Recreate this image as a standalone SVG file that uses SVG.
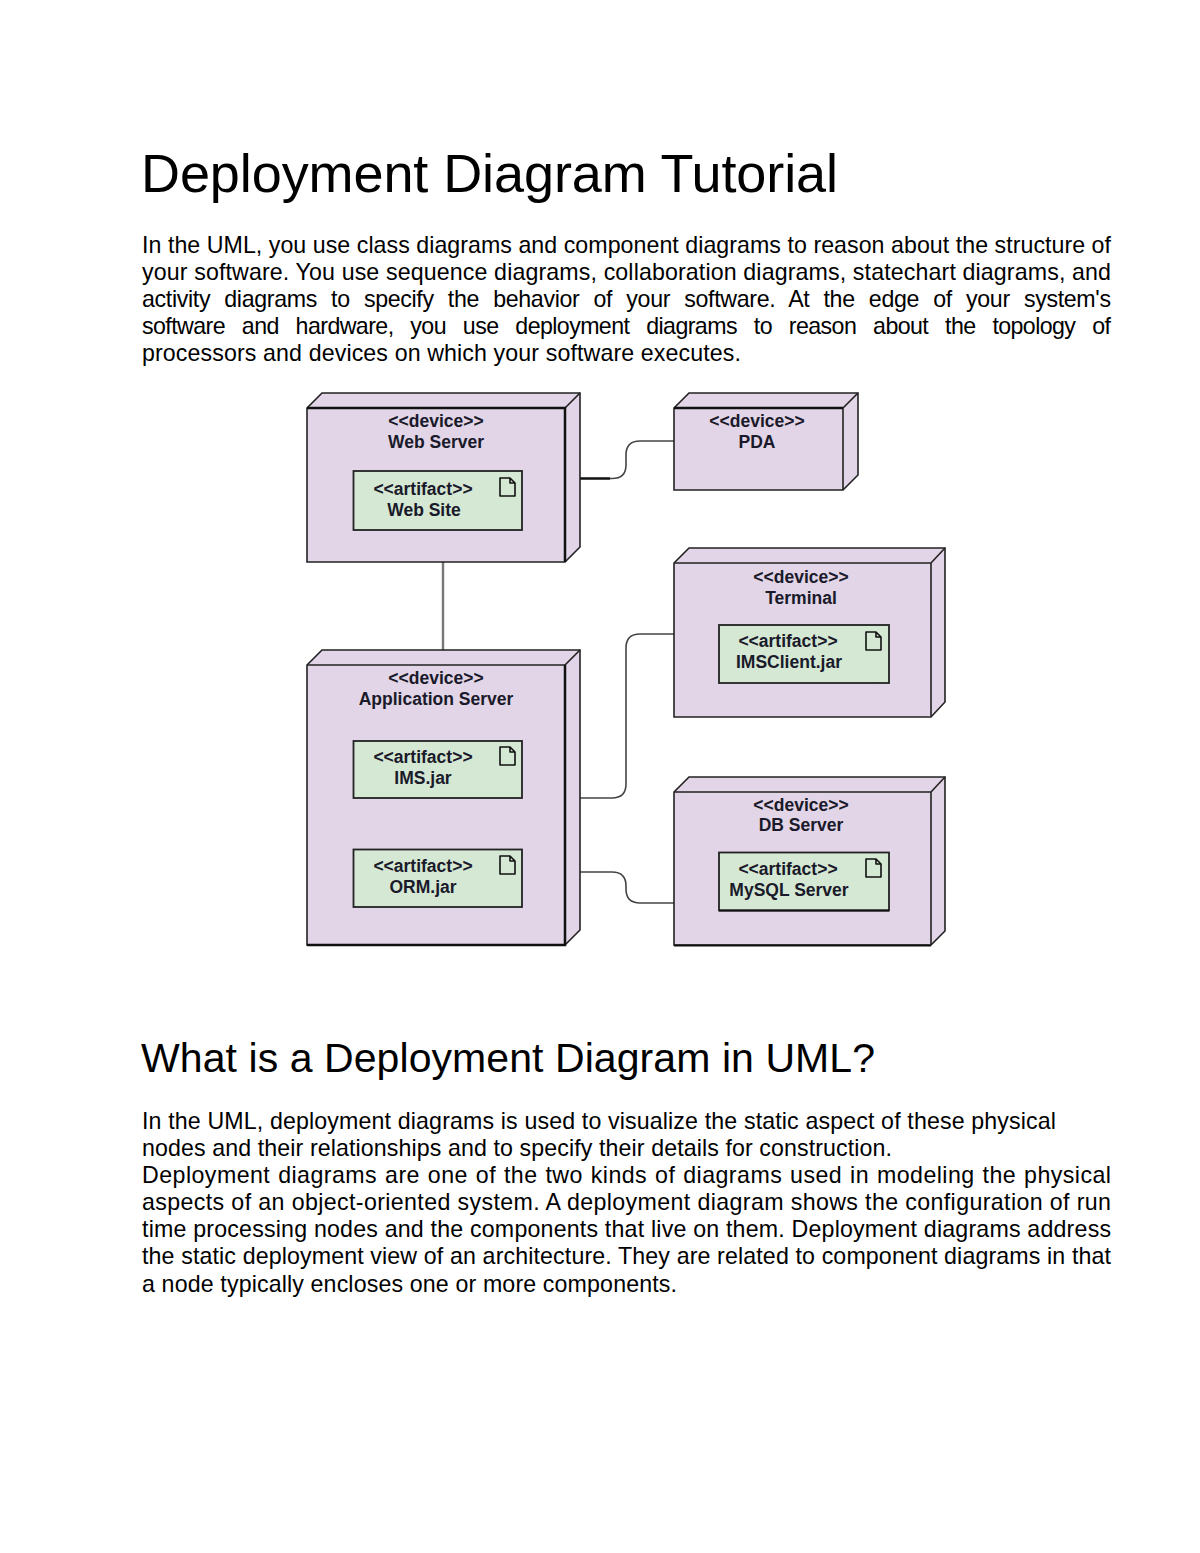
<svg xmlns="http://www.w3.org/2000/svg" width="1200" height="1553" viewBox="0 0 1200 1553">
<style>
text{font-family:"Liberation Sans",Arial,sans-serif;fill:#000}
.t{font-size:54px}.h{font-size:41px}.b{font-size:23.2px}
.n{fill:#e1d5e7;stroke:#222;stroke-width:1.6}
.a{fill:#d5e8d4;stroke:#222;stroke-width:1.8}
.i{fill:none;stroke:#111;stroke-width:1.6;stroke-linejoin:round}
.c{fill:none;stroke:#444;stroke-width:1.6}
.l{font-size:17.500px;font-weight:bold;fill:#1a1a2a;text-anchor:middle}
.front{fill:none;stroke:#111;stroke-width:2}
</style>
<defs>
<g id="doc"><path class="i" d="M0 0h10l5 5v13h-15z M10 0v5h5"/></g>
</defs>
<rect width="1200" height="1553" fill="#fff"/>
<g id="document-text">
<text class="t" x="141" y="192" textLength="697">Deployment Diagram Tutorial</text>
<text class="b" x="142" y="252.500" textLength="969">In the UML, you use class diagrams and component diagrams to reason about the structure of</text>
<text class="b" x="142" y="279.500" textLength="969">your software. You use sequence diagrams, collaboration diagrams, statechart diagrams, and</text>
<text class="b" x="142" y="306.500" textLength="969" word-spacing="8">activity diagrams to specify the behavior of your software. At the edge of your system's</text>
<text class="b" x="142" y="333.500" textLength="969" word-spacing="11">software and hardware, you use deployment diagrams to reason about the topology of</text>
<text class="b" x="142" y="360.500" textLength="599">processors and devices on which your software executes.</text>
<text class="h" x="141" y="1072" textLength="734">What is a Deployment Diagram in UML?</text>
<text class="b" x="142" y="1129" textLength="914">In the UML, deployment diagrams is used to visualize the static aspect of these physical</text>
<text class="b" x="142" y="1156" textLength="750">nodes and their relationships and to specify their details for construction.</text>
<text class="b" x="142" y="1183" textLength="969" word-spacing="1">Deployment diagrams are one of the two kinds of diagrams used in modeling the physical</text>
<text class="b" x="142" y="1210" textLength="969">aspects of an object-oriented system. A deployment diagram shows the configuration of run</text>
<text class="b" x="142" y="1237" textLength="969">time processing nodes and the components that live on them. Deployment diagrams address</text>
<text class="b" x="142" y="1264" textLength="969">the static deployment view of an architecture. They are related to component diagrams in that</text>
<text class="b" x="142" y="1292" textLength="535">a node typically encloses one or more components.</text>
</g>
<g id="connectors">
<path class="c" style="stroke:#777;stroke-width:2.400" d="M443 562V650"/>
<path class="c" d="M580 478.500H612Q626 478.500 626 465V455Q626 441 640 441H674"/>
<path class="c" style="stroke:#111;stroke-width:2.400" d="M580 478.500H610"/>
<path class="c" d="M580 798H612Q626 798 626 784V648Q626 634 640 634H674"/>
<path class="c" d="M580 872H612Q626 872 626 886V889Q626 903 640 903H674"/>
</g>
<g id="web-server">
<path class="n" d="M307 408L322 393H580V547L565 562H307Z"/>
<path class="n" d="M565 408L580 393M565 408V562"/>
<path class="front" style="stroke-width:2.500" d="M307 408H565V562"/>
<text class="l" x="436" y="427">&lt;&lt;device&gt;&gt;</text>
<text class="l" x="436" y="448">Web Server</text>
<g id="web-site"><rect class="a" x="353.500" y="471" width="168.500" height="59"/>
<use href="#doc" x="500" y="478"/>
<text class="l" x="423" y="495">&lt;&lt;artifact&gt;&gt;</text>
<text class="l" x="424" y="516">Web Site</text></g>
</g>
<g id="pda">
<path class="n" d="M674 408L689 393H858V475L843 490H674Z"/>
<path class="n" d="M843 408L858 393M843 408V490"/>
<path class="front" style="stroke-width:2.500" d="M674 408H843"/>
<text class="l" x="757" y="427">&lt;&lt;device&gt;&gt;</text>
<text class="l" x="757" y="448">PDA</text>
</g>
<g id="terminal">
<path class="n" d="M674 563L689 548H945V702L931 717H674Z"/>
<path class="n" d="M674 563H931V717M931 563L945 548"/>
<text class="l" x="801" y="583">&lt;&lt;device&gt;&gt;</text>
<text class="l" x="801" y="604">Terminal</text>
<g id="imsclient"><rect class="a" x="719" y="625" width="170" height="58"/>
<use href="#doc" x="866" y="632"/>
<text class="l" x="788" y="647">&lt;&lt;artifact&gt;&gt;</text>
<text class="l" x="789" y="668">IMSClient.jar</text></g>
</g>
<g id="application-server">
<path class="n" d="M307 665L322 650H580V930L565 945H307Z"/>
<path class="n" d="M565 665L580 650M565 665V945"/>
<path class="n" style="fill:none" d="M307 665H565"/>
<path class="front" style="stroke-width:2.500" d="M565 665V945H307"/>
<text class="l" x="436" y="684">&lt;&lt;device&gt;&gt;</text>
<text class="l" x="436" y="705">Application Server</text>
<g id="ims-jar"><rect class="a" x="353.500" y="741" width="168.500" height="57"/>
<use href="#doc" x="500" y="747"/>
<text class="l" x="423" y="763">&lt;&lt;artifact&gt;&gt;</text>
<text class="l" x="423" y="784">IMS.jar</text></g>
<g id="orm-jar"><rect class="a" x="353.500" y="849.500" width="168.500" height="57.500"/>
<use href="#doc" x="500" y="856"/>
<text class="l" x="423" y="872">&lt;&lt;artifact&gt;&gt;</text>
<text class="l" x="423" y="893">ORM.jar</text></g>
</g>
<g id="db-server">
<path class="n" d="M674 792L689 777H945V931L931 945H674Z"/>
<path class="n" d="M674 792H931V945M931 792L945 777"/>
<path class="front" d="M674 945.500H931"/>
<text class="l" x="801" y="811">&lt;&lt;device&gt;&gt;</text>
<text class="l" x="801" y="831">DB Server</text>
<g id="mysql-server"><rect class="a" x="719" y="852.500" width="170" height="58"/>
<path class="front" d="M719 910.500H889"/>
<use href="#doc" x="866" y="859"/>
<text class="l" x="788" y="875">&lt;&lt;artifact&gt;&gt;</text>
<text class="l" x="789" y="896">MySQL Server</text></g>
</g>
</svg>
